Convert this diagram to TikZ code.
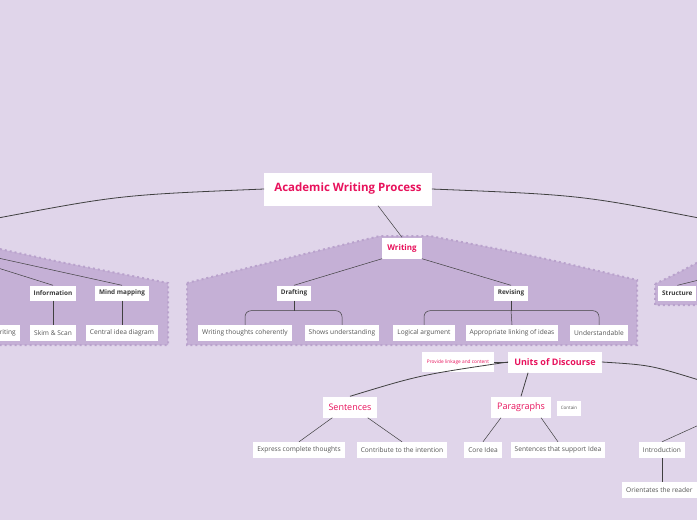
\documentclass[tikz,border=0pt]{standalone}
\usepackage{fontspec}
\setmainfont{Open Sans}
\definecolor{bg}{HTML}{E0D5EA}
\definecolor{reg}{HTML}{C5B0D6}
\definecolor{regb}{HTML}{B9A2CC}
\definecolor{pk}{HTML}{E8125C}
\definecolor{tx}{HTML}{555555}
\begin{document}
\begin{tikzpicture}[x=1pt,y=-1pt,
 box/.style={fill=white,inner sep=0pt,minimum height=#1},
 box/.default=14pt,
 leaf/.style={box=16pt,font=\fontsize{6.6}{7}\selectfont,text=tx,inner xsep=4pt},
 mid/.style={box=15pt,font=\bfseries\fontsize{6.4}{7}\selectfont,text=tx!70!black,inner xsep=4pt},
 sub/.style={box=21pt,font=\fontsize{9}{10}\selectfont,text=pk,inner xsep=6pt},
 ln/.style={draw=black!75,line width=0.5pt},
 rg/.style={fill=reg,draw=regb,line width=2pt,dash pattern=on 2pt off 3pt}]
\fill[bg] (0,0) rectangle (697,520);
\useasboundingbox (0,0) rectangle (697,520);
% regions
\path[rg] (-5,248) -- (60,262) -- (168,283) -- (168,345) -- (-5,345) -- cycle;
\path[rg] (187,283) .. controls (300,255) .. (380,236) -- (430,236) .. controls (530,255) .. (637,280) -- (637,345) -- (187,345) -- cycle;
\path[rg] (655,284) .. controls (680,272) .. (702,260) -- (702,305) -- (655,305) -- cycle;
% nodes
\node[box=33pt,inner xsep=10pt,font=\bfseries\fontsize{11.5}{13}\selectfont,text=pk] (root) at (348,189) {Academic Writing Process};
\node[box=21pt,inner xsep=5pt,font=\bfseries\fontsize{8}{9}\selectfont,text=pk] (wr) at (402,248) {Writing};
\node[mid] (dr) at (294,293) {Drafting};
\node[mid] (rv) at (511,293) {Revising};
\node[mid] (inf) at (53,293) {Information};
\node[mid] (mm) at (122,293) {Mind mapping};
\node[mid,anchor=west] (st) at (658,293) {Structure};
\node[leaf,anchor=east] (rit) at (20,333) {Writing};
\node[leaf] (sk) at (53,333) {Skim \& Scan};
\node[leaf] (cid) at (122,333) {Central idea diagram};
\node[leaf] (wtc) at (245,333) {Writing thoughts coherently};
\node[leaf] (su) at (342,333) {Shows understanding};
\node[leaf] (la) at (424,333) {Logical argument};
\node[leaf] (al) at (512,333) {Appropriate linking of ideas};
\node[leaf] (un) at (599,333) {Understandable};
\node[sub,font=\bfseries\fontsize{9}{10}\selectfont] (ud) at (555,362) {Units of Discourse};
\node[box=20pt,inner xsep=5pt,font=\fontsize{4.8}{5}\selectfont,text=pk] (pl) at (458,362) {Provide linkage and content};
\node[sub] (se) at (350,407) {Sentences};
\node[sub] (pa) at (521,407) {Paragraphs};
\node[box=15pt,inner xsep=4pt,font=\fontsize{4.5}{5}\selectfont,text=tx] (co) at (569,408) {Contain};
\node[leaf] (ect) at (299,450) {Express complete thoughts};
\node[leaf] (cti) at (402,450) {Contribute to the intention};
\node[leaf] (ci) at (483,450) {Core Idea};
\node[leaf] (ssi) at (558,450) {Sentences that support Idea};
\node[leaf] (in) at (662,450) {Introduction};
\node[leaf,anchor=west] (or) at (622,490) {Orientates the reader};
\coordinate (offl) at (-2,218);
\coordinate (offr) at (699,218);
\coordinate (offl2) at (-2,268);
\coordinate (offl3) at (-2,258);
\coordinate (offud) at (699,380);
\coordinate (offin) at (699,425);
\coordinate (offst) at (699,280);
% connectors
\draw[ln,line width=0.8pt] (root.west) .. controls (120,195) .. (offl);
\draw[ln,line width=0.8pt] (root.east) .. controls (580,195) .. (offr);
\draw[ln] (root.south) ++(30,0) -- (wr.north);
\draw[ln] (wr.south west) -- (dr.north);
\draw[ln] (wr.south east) -- (rv.north);
\draw[ln] (offl2) -- (inf.north);
\draw[ln] (offl3) -- (mm.north);
\draw[ln] (inf) -- (sk);
\draw[ln] (mm) -- (cid);
\draw[ln] (dr.south) -- ++(0,10) coordinate (dj);
\draw[ln,rounded corners=6pt] (wtc.north) |- (dj) -| (su.north);
\draw[ln] (rv.south) -- ++(0,10) coordinate (rj);
\draw[ln] (rj) -- (al.north);
\draw[ln,rounded corners=6pt] (la.north) |- (rj) -| (un.north);
\draw[ln] (st.north) -- (offst);
\draw[ln,line width=0.8pt] (ud.west) -- (pl.east);
\draw[ln,line width=0.8pt] (ud.west) .. controls (420,375) .. (se.north);
\draw[ln,line width=0.8pt] (ud.south west) ++(20,0) -- (pa.north);
\draw[ln,line width=0.8pt] (ud.east) .. controls (650,365) .. (offud);
\draw[ln] (se.south west) ++(10,0) -- (ect.north);
\draw[ln] (se.south east) ++(-10,0) -- (cti.north);
\draw[ln] (pa.south west) ++(10,0) -- (ci.north);
\draw[ln] (pa.south east) ++(-10,0) -- (ssi.north);
\draw[ln] (in.north) -- (offin);
\draw[ln] (in.south) -- (or.north -| in.south);
\end{tikzpicture}
\end{document}
